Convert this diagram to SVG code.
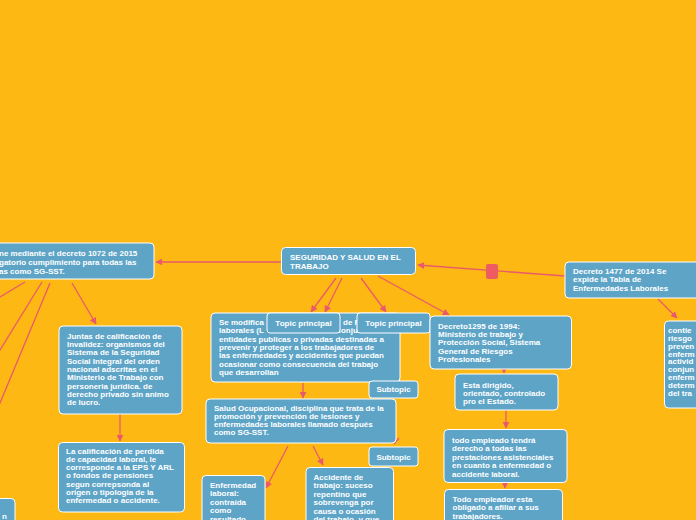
<svg xmlns="http://www.w3.org/2000/svg" width="696" height="520" viewBox="0 0 696 520">
<defs>
<style>
.n{fill:#5DA4C7;stroke:#FFFFFF;stroke-width:1;}
.t{font-family:"Liberation Sans",Arial,sans-serif;font-weight:bold;font-size:8px;fill:#FFFFFF;}
.tc{text-anchor:middle;}
.c{stroke:#EA5A6C;stroke-width:1.3;fill:none;marker-end:url(#ah);}
.c0{stroke:#EA5A6C;stroke-width:1.3;fill:none;}
</style>
<marker id="ah" viewBox="0 0 10 10" refX="9" refY="5" markerWidth="7" markerHeight="7" markerUnits="userSpaceOnUse" orient="auto">
<path d="M0,0 L10,5 L0,10 z" fill="#EA5A6C"/>
</marker>
</defs>
<rect x="0" y="0" width="696" height="520" fill="#FDB813"/>
<g id="connectors">
<line class="c" x1="565" y1="276" x2="418" y2="265"/>
<rect x="486" y="264" width="12" height="15" rx="2" fill="#EE5B61"/>
<line class="c" x1="281" y1="262" x2="156" y2="262"/>
<line class="c" x1="658" y1="299" x2="677" y2="318"/>
<line class="c" x1="336" y1="278" x2="311" y2="312"/>
<line class="c" x1="342" y1="278" x2="325" y2="312"/>
<line class="c" x1="361" y1="278" x2="386" y2="312"/>
<line class="c" x1="378" y1="276" x2="449" y2="315"/>
<line class="c" x1="72" y1="283" x2="96" y2="324"/>
<line class="c0" x1="25" y1="282" x2="-5" y2="300"/>
<line class="c0" x1="42" y1="282" x2="-5" y2="358"/>
<line class="c0" x1="50" y1="283" x2="-5" y2="415"/>
<line class="c" x1="120" y1="414" x2="120" y2="441"/>
<line class="c" x1="303" y1="383" x2="303" y2="398"/>
<line class="c" x1="288" y1="446" x2="266" y2="488"/>
<line class="c" x1="313" y1="446" x2="323" y2="465"/>
<line class="c" x1="504" y1="368" x2="504" y2="373"/>
<line class="c" x1="506" y1="410" x2="506" y2="428"/>
<line class="c" x1="505" y1="482" x2="505" y2="488"/>
<line class="c0" x1="394" y1="444" x2="399" y2="438"/>
</g>
<g id="node-sgsst">
<rect class="n" x="-10" y="243" width="164" height="36" rx="4"/>
<text class="t" x="-1" y="256">ne mediante el decreto 1072 de 2015</text>
<text class="t" x="-1" y="265">gatorio cumplimiento para todas las</text>
<text class="t" x="-1" y="274">as como SG-SST.</text>
</g>
<g id="node-root">
<rect class="n" x="281.5" y="247.5" width="134" height="27" rx="4"/>
<text class="t" x="290" y="260">SEGURIDAD Y SALUD EN EL</text>
<text class="t" x="290" y="268.5">TRABAJO</text>
</g>
<g id="node-decreto1477">
<rect class="n" x="565" y="262" width="140" height="36" rx="4"/>
<text class="t" x="573" y="273.5">Decreto 1477 de 2014 Se</text>
<text class="t" x="573" y="282">expide la Tabla de</text>
<text class="t" x="573" y="290.5">Enfermedades Laborales</text>
</g>
<g id="node-contiene">
<rect class="n" x="664.5" y="321" width="40" height="87" rx="4"/>
<text class="t" x="668" y="333.2">contie</text>
<text class="t" x="668" y="341">riesgo</text>
<text class="t" x="668" y="348.8">preven</text>
<text class="t" x="668" y="356.6">enferm</text>
<text class="t" x="668" y="364.4">activid</text>
<text class="t" x="668" y="372.2">conjun</text>
<text class="t" x="668" y="380">enferm</text>
<text class="t" x="668" y="387.8">determ</text>
<text class="t" x="668" y="395.6">del tra</text>
</g>
<g id="node-ley1562">
<rect class="n" x="211" y="313" width="189" height="69" rx="4"/>
<text class="t" x="219" y="325">Se modifica</text>
<text class="t" x="343" y="325">de R</text>
<text class="t" x="219" y="333.3">laborales (L</text>
<text class="t" x="336.5" y="333.3">conju</text>
<text class="t" x="219" y="341.6">entidades publicas o privadas destinadas a</text>
<text class="t" x="219" y="350">prevenir y proteger a los trabajadores de</text>
<text class="t" x="219" y="358.3">las enfermedades y accidentes que puedan</text>
<text class="t" x="219" y="366.6">ocasionar como consecuencia del trabajo</text>
<text class="t" x="219" y="375">que desarrollan</text>
</g>
<g id="node-topic1">
<rect class="n" x="267" y="313" width="73" height="20" rx="3"/>
<text class="t tc" x="303.5" y="326">Topic principal</text>
</g>
<g id="node-topic2">
<rect class="n" x="357" y="313" width="73" height="20" rx="3"/>
<text class="t tc" x="393.5" y="326">Topic principal</text>
</g>
<g id="node-decreto1295">
<rect class="n" x="430" y="316" width="141.5" height="53" rx="4"/>
<text class="t" x="438" y="328.5">Decreto1295 de 1994:</text>
<text class="t" x="438" y="337">Ministerio de trabajo y</text>
<text class="t" x="438" y="345.3">Protección Social, Sistema</text>
<text class="t" x="438" y="353.6">General de Riesgos</text>
<text class="t" x="438" y="362">Profesionales</text>
</g>
<g id="node-subtopic1">
<rect class="n" x="369" y="381" width="49" height="17" rx="3"/>
<text class="t tc" x="393.5" y="392.2">Subtopic</text>
</g>
<g id="node-salud">
<rect class="n" x="206" y="399" width="190" height="44" rx="4"/>
<text class="t" x="214" y="410.5">Salud Ocupacional, disciplina que trata de la</text>
<text class="t" x="214" y="418.8">promoción y prevención de lesiones y</text>
<text class="t" x="214" y="427.1">enfermedades laborales llamado después</text>
<text class="t" x="214" y="435.4">como SG-SST.</text>
</g>
<g id="node-subtopic2">
<rect class="n" x="369" y="447" width="49" height="19" rx="3"/>
<text class="t tc" x="393.5" y="459.5">Subtopic</text>
</g>
<g id="node-enfermedad">
<rect class="n" x="202" y="475.5" width="63" height="60" rx="4"/>
<text class="t" x="210" y="488">Enfermedad</text>
<text class="t" x="210" y="496.4">laboral:</text>
<text class="t" x="210" y="504.8">contraída</text>
<text class="t" x="210" y="513.2">como</text>
<text class="t" x="210" y="521.6">resultado</text>
</g>
<g id="node-accidente">
<rect class="n" x="306" y="467.5" width="87.5" height="60" rx="4"/>
<text class="t" x="313.5" y="480">Accidente de</text>
<text class="t" x="313.5" y="488.4">trabajo: suceso</text>
<text class="t" x="313.5" y="496.8">repentino que</text>
<text class="t" x="313.5" y="505.2">sobrevenga por</text>
<text class="t" x="313.5" y="513.6">causa o ocasión</text>
<text class="t" x="313.5" y="522">del trabajo, y que</text>
</g>
<g id="node-juntas">
<rect class="n" x="59" y="326" width="123" height="88" rx="4"/>
<text class="t" x="67" y="338.5">Juntas de calificación de</text>
<text class="t" x="67" y="346.8">Invalidez: organismos del</text>
<text class="t" x="67" y="355.2">Sistema de la Seguridad</text>
<text class="t" x="67" y="363.5">Social Integral del orden</text>
<text class="t" x="67" y="371.8">nacional adscritas en el</text>
<text class="t" x="67" y="380.2">Ministerio de Trabajo con</text>
<text class="t" x="67" y="388.5">personeria jurídica. de</text>
<text class="t" x="67" y="396.8">derecho privado sin animo</text>
<text class="t" x="67" y="405.2">de lucro.</text>
</g>
<g id="node-calificacion">
<rect class="n" x="58.5" y="442.5" width="126" height="69.5" rx="4"/>
<text class="t" x="66" y="453.5">La calificación de perdida</text>
<text class="t" x="66" y="461.8">de capacidad laboral, le</text>
<text class="t" x="66" y="470.1">corresponde a la EPS Y ARL</text>
<text class="t" x="66" y="478.4">o fondos de pensiones</text>
<text class="t" x="66" y="486.7">segun correpsonda al</text>
<text class="t" x="66" y="495">origen o tipologia de la</text>
<text class="t" x="66" y="503.3">enfermedad o accidente.</text>
</g>
<g id="node-bottomleft">
<rect class="n" x="-10" y="498.5" width="25" height="30" rx="4"/>
<text class="t" x="2" y="519">n</text>
</g>
<g id="node-dirigido">
<rect class="n" x="455" y="374" width="103" height="36" rx="4"/>
<text class="t" x="463" y="387.5">Esta dirigido,</text>
<text class="t" x="463" y="395.8">orientado, controlado</text>
<text class="t" x="463" y="404.1">pro el Estado.</text>
</g>
<g id="node-empleado">
<rect class="n" x="444" y="429.5" width="123" height="53" rx="4"/>
<text class="t" x="452" y="443">todo empleado tendrá</text>
<text class="t" x="452" y="451.4">derecho a todas las</text>
<text class="t" x="452" y="459.8">prestaciones asistenciales</text>
<text class="t" x="452" y="468.2">en cuanto a enfermedad o</text>
<text class="t" x="452" y="476.6">accidente laboral.</text>
</g>
<g id="node-empleador">
<rect class="n" x="444.5" y="489.5" width="118" height="40" rx="4"/>
<text class="t" x="452.5" y="502">Todo empleador esta</text>
<text class="t" x="452.5" y="510.4">obligado a afiliar a sus</text>
<text class="t" x="452.5" y="518.8">trabajadores.</text>
</g>
</svg>
